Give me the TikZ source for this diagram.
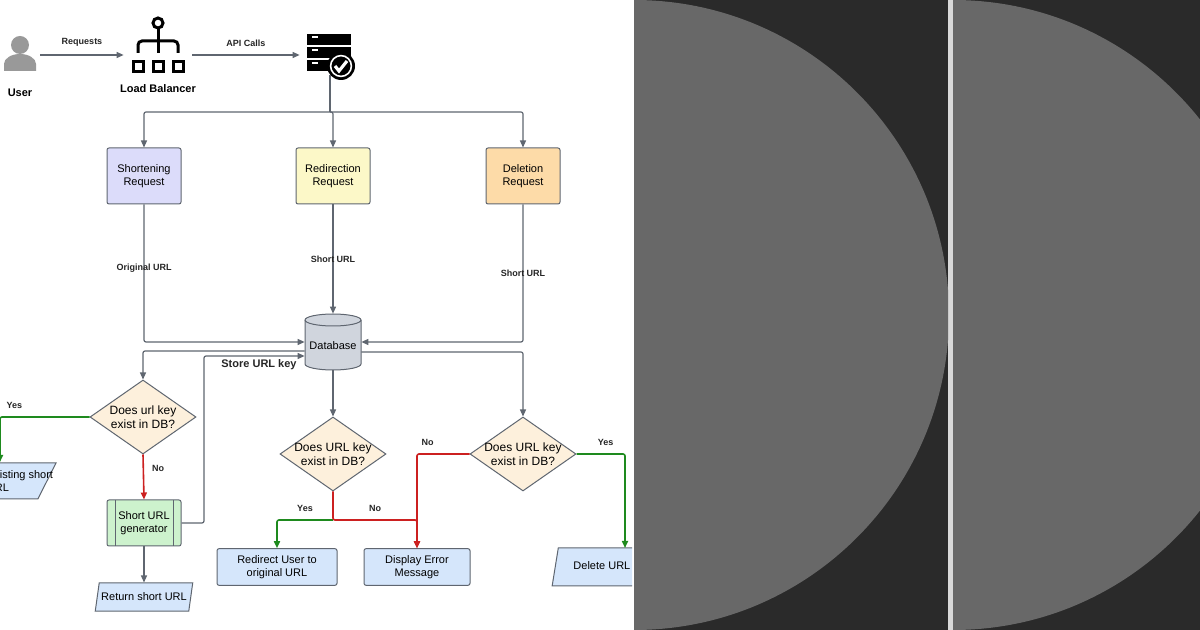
\documentclass[tikz,border=0pt]{standalone}
\usepackage{fontspec}
\setmainfont{Liberation Sans}
\usetikzlibrary{shapes.geometric, arrows.meta, positioning}
\definecolor{linegray}{HTML}{5F6670}
\definecolor{yesgreen}{HTML}{1E8A1E}
\definecolor{nored}{HTML}{CC2020}
\definecolor{shortfill}{HTML}{DCDCFA}
\definecolor{redirfill}{HTML}{FCF8C8}
\definecolor{delfill}{HTML}{FDDBA8}
\definecolor{askfill}{HTML}{FDF0DC}
\definecolor{genfill}{HTML}{CDF2CD}
\definecolor{outfill}{HTML}{D5E6FB}
\definecolor{dbfill}{HTML}{D0D5DD}
\definecolor{panel}{HTML}{2A2A2A}
\definecolor{disc}{HTML}{686868}
\tikzset{
  box/.style={draw=linegray, line width=0.5pt, rounded corners=1pt, minimum width=37pt, minimum height=28pt, align=center, font=\fontsize{5.5}{6.5}\selectfont},
  ask/.style={diamond, draw=linegray, line width=0.5pt, fill=askfill, aspect=1.45, inner sep=-3.5pt, minimum width=53pt, minimum height=37pt, align=center, font=\fontsize{6}{7}\selectfont},
  leaning/.style={trapezium, trapezium left angle=72, trapezium right angle=108, trapezium stretches=true, draw=linegray, line width=0.5pt, fill=outfill, align=center, font=\fontsize{5.5}{6.5}\selectfont, inner sep=1pt},
  conn/.style={draw=linegray, line width=0.6pt, rounded corners=1pt, -{Triangle[length=3.5pt,width=3pt]}},
  yes/.style={conn, draw=yesgreen, line width=0.8pt},
  no/.style={conn, draw=nored, line width=0.8pt},
  lbl/.style={font=\bfseries\fontsize{4.5}{5}\selectfont, text=black!85, inner sep=0pt},
  icon/.style={minimum size=20pt, inner sep=0pt}
}
\begin{document}
\begin{tikzpicture}[x=0.5pt, y=-0.5pt]
\useasboundingbox (0,0) rectangle (1200,630);
\fill[white] (0,0) rectangle (634,630);

\begin{scope}
\clip (0,0) rectangle (632,630);
% top row
\node (user) [icon] at (20,55) {};
\node (lb) [icon, minimum width=34pt] at (158,55) {};
\node (srv) [icon, minimum width=30pt] at (330,55) {};
\node [below=3pt of user, font=\bfseries\fontsize{5.5}{6}\selectfont] {User};
\node [below=1pt of lb, font=\bfseries\fontsize{5.5}{6}\selectfont] {Load Balancer};

% user icon
\fill[black!40] (20,45) circle (4.5pt);
\fill[black!40] (4,71) -- (4,64) arc[start angle=180, end angle=0, x radius=8pt, y radius=5pt] -- (36,71) -- cycle;
% load balancer icon
\draw[line width=1.5pt] (158,23) circle (2.5pt);
\draw[line width=1.5pt] (158,28) -- (158,53);
\draw[line width=1.5pt, rounded corners=2pt] (138,53) -- (138,41) -- (178,41) -- (178,53);
\foreach \xx in {138,158,178}
  \draw[line width=1.5pt] (\xx-5,62) rectangle (\xx+5,72);
% server icon
\foreach \yy in {34,47,60}
  \fill[black] (307,\yy) rectangle (351,\yy+11);
\foreach \yy in {37,50,63}
  \draw[white, line width=1pt] (312,\yy) -- (318,\yy);
\fill[black] (341,66) circle (7pt);
\draw[white, line width=0.8pt] (341,66) circle (5.2pt);
\draw[white, line width=1.6pt] (335,66) -- (339,71) -- (347,61);

\draw[conn] (user) -- node[lbl, above=4pt] {Requests} (lb);
\draw[conn] (lb) -- node[lbl, above=4pt] {API Calls} (srv);

% request boxes
\node (short) [box, fill=shortfill] at (144,176) {Shortening\\Request};
\node (redir) [box, fill=redirfill] at (333,176) {Redirection\\Request};
\node (del) [box, fill=delfill] at (523,176) {Deletion\\Request};
\coordinate (split) at (330,112);
\draw[linegray, line width=0.6pt] (srv.south) -- (split);
\draw[conn] (split) -| (short);
\draw[conn] (split) -| (redir);
\draw[conn] (split) -| (del);

% database
\node (db) [minimum width=28pt, minimum height=28pt, inner sep=0pt] at (333,342) {};
\fill[dbfill, draw=linegray, line width=0.5pt] (305,320) -- (305,364) arc[start angle=180, end angle=360, x radius=14pt, y radius=3pt] -- (361,320) arc[start angle=0, end angle=180, x radius=14pt, y radius=3pt] -- cycle;
\draw[linegray, line width=0.5pt] (305,320) arc[start angle=180, end angle=360, x radius=14pt, y radius=3pt];
\node at ([yshift=-2pt]db) [font=\fontsize{5.5}{6.5}\selectfont] {Database};

\draw[conn] (short) |- node[lbl, pos=0.23] {Original URL} (db.west);
\draw[conn] (redir) -- node[lbl, pos=0.5] {Short URL} (db.north);
\draw[conn] (del) |- node[lbl, pos=0.25] {Short URL} (db.east);

% shortening branch
\node (d1) [ask] at (143,417) {Does url key\\exist in DB?};
\node (exist) [leaning, minimum width=46pt, minimum height=18pt] at (10,481) {};
\node at (exist) [xshift=5pt, align=left, font=\fontsize{5.5}{6.5}\selectfont] {Existing short\\URL};
\node (gen) [box, fill=genfill, minimum height=23pt] at (144,523) {Short URL\\generator};
\draw[linegray, line width=0.5pt] (115,500) -- (115,546) (173,500) -- (173,546);
\node (ret) [leaning, minimum width=46pt, minimum height=14pt] at (144,597) {Return short URL};
\coordinate (exyes) at (0,462);
\coordinate (storecorner) at (204,356);

\draw[conn] ([yshift=-4.5pt]db.west) -| (d1);
\draw[yes] (d1.west) -| node[lbl, pos=0.42, above=4pt] {Yes} (exyes);
\draw[no] (d1.south) -- node[lbl, right=4pt, pos=0.3] {No} (gen.north);
\draw[conn] (gen) -- (ret);
\draw[conn] (gen.east) -| (storecorner) -- ([yshift=-7pt]db.west);
\node [lbl, font=\bfseries\fontsize{5.5}{6}\selectfont] at (259,365) {Store URL key};

% redirection branch
\node (d2) [ask] at (333,454) {Does URL key\\exist in DB?};
\node (go) [box, fill=outfill, minimum width=60pt, minimum height=17pt] at (277,567) {Redirect User to\\original URL};
\node (err) [box, fill=outfill, minimum width=53pt, minimum height=17pt] at (417,567) {Display Error\\Message};
\coordinate (j2) at (333,520);
\draw[conn] (db) -- (d2);
\draw[yes] (j2) -| node[lbl, pos=0.25, above=4pt] {Yes} (go);
\draw[no] (d2.south) -- (j2) -| node[lbl, pos=0.25, above=4pt] {No} (err);

% deletion branch
\node (d3) [ask] at (523,454) {Does URL key\\exist in DB?};
\node (rm) [leaning, minimum width=60pt, minimum height=19pt, font=\fontsize{5.5}{6.5}\selectfont] at (612,567) {Delete URL key};
\coordinate (delin) at (625,548);
\draw[conn] ([yshift=-5pt]db.east) -| (d3);
\draw[no] (d3.west) -| node[lbl, pos=0.4, above=4pt] {No} (err);
\draw[yes] (d3.east) -| node[lbl, pos=0.3, above=4pt] {Yes} (delin);
\end{scope}

% right panels
\fill[panel] (634,0) rectangle (1200,630);
\fill[white!85!black] (948,0) rectangle (953,630);
\begin{scope}
\clip (634,0) rectangle (948,630);
\fill[disc] (634,315) circle (157.5pt);
\end{scope}
\begin{scope}
\clip (953,0) rectangle (1200,630);
\fill[disc] (953,315) circle (157.5pt);
\end{scope}
\end{tikzpicture}
\end{document}
